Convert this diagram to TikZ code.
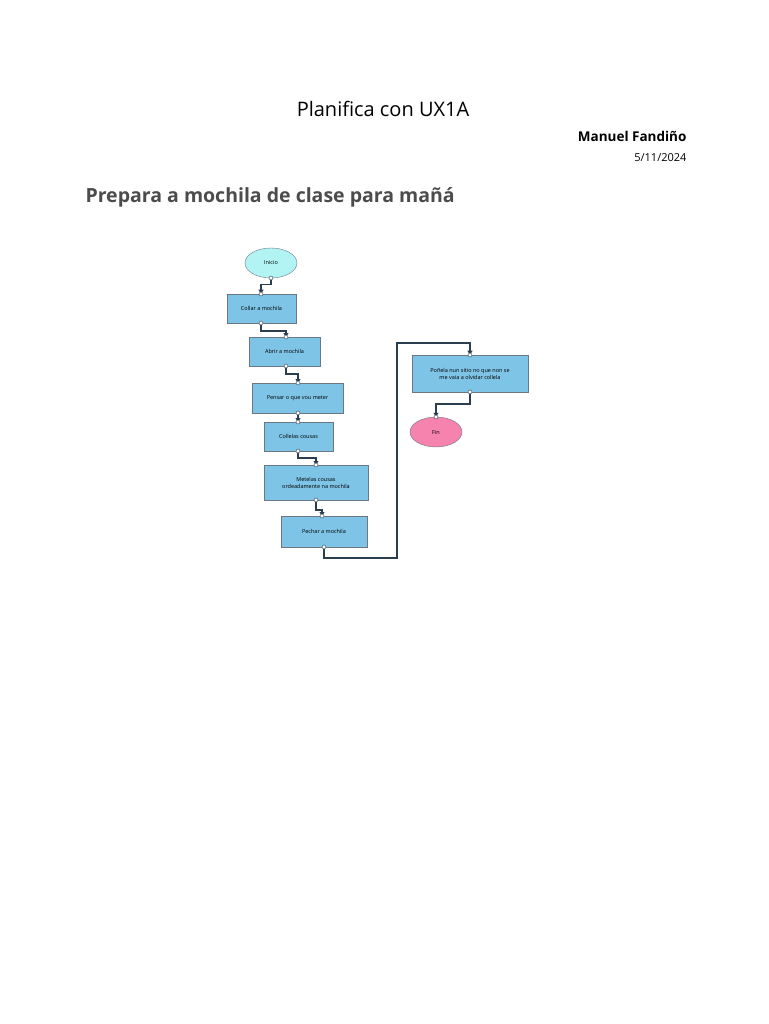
\documentclass[tikz,border=0pt]{standalone}
\usepackage{fontspec}
\setmainfont{Open Sans}
\usetikzlibrary{shapes.geometric,arrows.meta}
\definecolor{boxc}{HTML}{7EC4E6}
\definecolor{linec}{HTML}{2B3E50}
\begin{document}
\begin{tikzpicture}[x=1pt,y=-1pt,
 bx/.style={draw=linec!70,fill=boxc,line width=0.6pt,inner sep=0pt,font=\fontsize{5.5}{7}\selectfont,align=center},
 con/.style={draw=linec,line width=1.2pt,-{Triangle[length=4pt,width=5pt]}},
 dot/.style={circle,draw=linec,fill=white,inner sep=0pt,minimum size=4pt}]
\useasboundingbox (0,0) rectangle (768,1024);
\fill[white] (0,0) rectangle (768,1024);
\node[font=\fontsize{20}{24}\selectfont] (t) at (383,109) {Planifica con UX1A};
\node[anchor=east,font=\fontsize{13.5}{16}\selectfont\bfseries] (a) at (690,136) {Manuel Fandiño};
\node[anchor=east,font=\fontsize{11}{13}\selectfont] (d) at (690,158) {5/11/2024};
\node[anchor=west,font=\fontsize{19.5}{23}\selectfont\bfseries,text=black!70] (h) at (82,197) {Prepara a mochila de clase para mañá};

\node[ellipse,draw=linec!70,fill=teal!35!green!20!cyan!35,fill=teal!30!cyan!30!white,minimum width=52pt,minimum height=30pt,font=\fontsize{5.5}{7}\selectfont] (ini) at (271,263) {Inicio};
\node[bx,minimum width=69pt,minimum height=29pt] (n1) at (261.5,308.5) {Collar a mochila};
\node[bx,minimum width=71pt,minimum height=29pt] (n2) at (284.5,351.5) {Abrir a mochila};
\node[bx,minimum width=91pt,minimum height=30pt] (n3) at (297.5,398) {Pensar o que vou meter};
\node[bx,minimum width=69pt,minimum height=29pt] (n4) at (298.5,436.5) {Collelas cousas};
\node[bx,minimum width=104pt,minimum height=35pt] (n5) at (316,482.5) {Metelas cousas\\ordeadamente na mochila};
\node[bx,minimum width=86pt,minimum height=31pt] (n6) at (324,531.5) {Pechar a mochila};
\node[bx,minimum width=116pt,minimum height=37pt] (n7) at (470,373.5) {Poñela nun sitio no que non se\\me vaia a olvidar collela};
\node[ellipse,draw=linec!70,fill=magenta!40!pink!90,minimum width=52pt,minimum height=30pt,font=\fontsize{5.5}{7}\selectfont] (fin) at (436,432) {Fin};

\draw[con] (ini.south) -- ++(0,6) -| (n1.north -| 261,0) ;
\draw[con] (261,323) -- (261,331) -| (286,337);
\draw[con] (286,366) -- (286,374) -| (298,383);
\draw[con] (298,413) -- (298,422);
\draw[con] (298,451) -- (298,458) -| (316,465);
\draw[con] (316,500) -- (316,510) -| (322,516);
\draw[con] (n6.south) -- (324,558) -- (397,558) -- (397,343) -| (n7.north);
\draw[con] (n7.south) -- (470,404) -| (fin.north);
\foreach \p in {(271,278),(261,294),(261,323),(286,337),(286,366),(298,383),(298,413),(298,422),(298,451),(316,465),(316,500),(322,516),(324,547),(470,355),(470,392),(436,417)}
  \node[dot] at \p {};
\end{tikzpicture}
\end{document}
